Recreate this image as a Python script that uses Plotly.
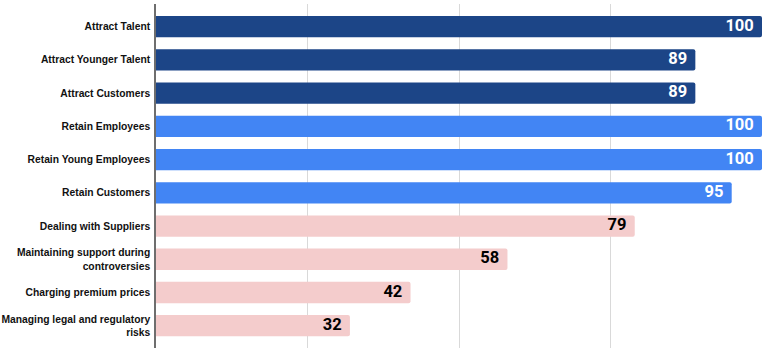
import plotly.graph_objects as go

categories = [
    "Attract Talent",
    "Attract Younger Talent",
    "Attract Customers",
    "Retain Employees",
    "Retain Young Employees",
    "Retain Customers",
    "Dealing with Suppliers",
    "Maintaining support during<br>controversies",
    "Charging premium prices",
    "Managing legal and regulatory<br>risks",
]
values = [100, 89, 89, 100, 100, 95, 79, 58, 42, 32]
bar_colors = ["#1c4587"] * 3 + ["#4285f4"] * 3 + ["#f4cccc"] * 4
text_colors = ["#ffffff"] * 6 + ["#000000"] * 4

fig = go.Figure()
fig.add_trace(
    go.Bar(
        x=values,
        y=categories,
        orientation="h",
        marker=dict(color=bar_colors, line=dict(width=0), cornerradius=2),
        hoverinfo="skip",
    )
)
fig.add_trace(
    go.Scatter(
        x=values,
        y=categories,
        mode="text",
        text=[f"{v}  " for v in values],
        textposition="middle left",
        textfont=dict(family="Roboto", size=16.5, color=text_colors, weight="bold"),
        cliponaxis=False,
        hoverinfo="skip",
    )
)

fig.update_layout(
    width=768,
    height=354,
    margin=dict(l=156, r=6, t=4, b=6, autoexpand=False),
    paper_bgcolor="white",
    plot_bgcolor="white",
    bargap=0.36,
    showlegend=False,
)
fig.update_xaxes(
    range=[0, 100],
    tickvals=[0, 25, 50, 75, 100],
    showticklabels=False,
    showgrid=True,
    gridcolor="#d9d9d9",
    gridwidth=1,
    zeroline=False,
    showline=False,
    fixedrange=True,
    automargin=False,
)
fig.update_yaxes(
    categoryorder="array",
    categoryarray=categories,
    range=[9.67, -0.68],
    showgrid=False,
    showline=True,
    linecolor="#6e6e6e",
    linewidth=1.5,
    ticks="",
    ticklabelstandoff=2,
    tickfont=dict(family="Liberation Sans", size=10.3, color="#111111", weight="bold"),
    fixedrange=True,
    automargin=False,
)

fig.write_html("out.html")
